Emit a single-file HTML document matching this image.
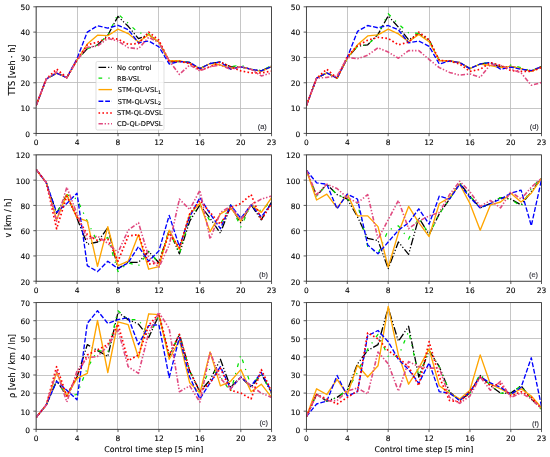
<!DOCTYPE html>
<html><head><meta charset="utf-8"><title>Figure</title>
<style>html,body{margin:0;padding:0;background:#fff}body{width:550px;height:457px;overflow:hidden}svg{display:block;filter:blur(0.3px)}svg text{stroke:#000;stroke-width:.1px}</style>
</head><body>
<svg width="550" height="457" viewBox="0 0 550 457" font-family="DejaVu Sans, Liberation Sans, sans-serif" font-size="7.5" fill="#000000">
<rect width="550" height="457" fill="#ffffff"/>
<clipPath id="c1"><rect x="36.1" y="6.8" width="235.45" height="126.60"/></clipPath>
<path d="M36.5 6.8V133.4M77.5 6.8V133.4M117.5 6.8V133.4M158.5 6.8V133.4M199.5 6.8V133.4M240.5 6.8V133.4M271.5 6.8V133.4M36.1 133.5H271.55M36.1 108.5H271.55M36.1 82.5H271.55M36.1 57.5H271.55M36.1 32.5H271.55M36.1 6.5H271.55" stroke="#bcbcbc" stroke-width="0.85" fill="none"/>
<g clip-path="url(#c1)" fill="none" stroke-linejoin="round">
<polyline points="36.1,105.5 46.3,79.0 56.6,73.1 66.8,77.7 77.0,60.0 87.3,48.6 97.5,45.0 107.8,35.2 118.0,16.4 128.2,26.3 138.5,38.7 148.7,34.7 158.9,42.0 169.2,61.5 179.4,61.5 189.7,62.5 199.9,68.6 210.1,63.5 220.4,62.0 230.6,66.8 240.8,66.8 251.1,69.3 261.3,70.9 271.6,66.0" stroke="#000000" stroke-width="1.3" stroke-dasharray="7.6,2,1.2,2,1.2,2"/>
<polyline points="36.1,105.5 46.3,79.0 56.6,73.1 66.8,77.7 77.0,60.0 87.3,48.6 97.5,45.0 107.8,35.2 118.0,13.9 128.2,23.3 138.5,32.9 148.7,33.9 158.9,42.8 169.2,61.5 179.4,61.5 189.7,62.5 199.9,68.6 210.1,63.5 220.4,62.0 230.6,66.8 240.8,65.0 251.1,69.3 261.3,70.4 271.6,66.0" stroke="#00e000" stroke-width="1.25" stroke-dasharray="3.7,6.2,1.2,6.2"/>
<polyline points="36.1,105.5 46.3,79.0 56.6,73.1 66.8,77.7 77.0,60.0 87.3,44.0 97.5,35.2 107.8,35.7 118.0,29.1 128.2,33.6 138.5,42.0 148.7,34.7 158.9,42.0 169.2,60.7 179.4,60.7 189.7,63.3 199.9,68.6 210.1,63.5 220.4,65.0 230.6,68.3 240.8,66.8 251.1,69.3 261.3,71.4 271.6,66.6" stroke="#ffa500" stroke-width="1.35"/>
<polyline points="36.1,105.5 46.3,79.0 56.6,73.1 66.8,77.7 77.0,58.7 87.3,32.1 97.5,25.8 107.8,28.1 118.0,25.3 128.2,29.6 138.5,42.8 148.7,41.0 158.9,46.8 169.2,64.0 179.4,61.5 189.7,62.5 199.9,68.6 210.1,63.5 220.4,62.0 230.6,69.3 240.8,66.8 251.1,69.3 261.3,70.9 271.6,66.6" stroke="#0000ff" stroke-width="1.35" stroke-dasharray="4.8,1.9"/>
<polyline points="36.1,105.5 46.3,79.0 56.6,69.1 66.8,77.7 77.0,60.0 87.3,44.8 97.5,42.2 107.8,37.7 118.0,39.2 128.2,44.3 138.5,43.5 148.7,32.1 158.9,40.2 169.2,61.5 179.4,61.5 189.7,63.3 199.9,70.1 210.1,66.8 220.4,62.0 230.6,66.8 240.8,70.9 251.1,72.9 261.3,72.9 271.6,71.1" stroke="#ff0000" stroke-width="1.7" stroke-dasharray="1.6,2.3"/>
<polyline points="36.1,105.5 46.3,79.0 56.6,71.9 66.8,77.7 77.0,60.0 87.3,47.3 97.5,46.0 107.8,38.5 118.0,41.0 128.2,47.6 138.5,48.8 148.7,37.2 158.9,42.8 169.2,60.7 179.4,74.4 189.7,65.0 199.9,70.9 210.1,66.8 220.4,65.0 230.6,69.3 240.8,66.8 251.1,69.3 261.3,75.9 271.6,72.9" stroke="#e04a80" stroke-width="1.6" stroke-dasharray="4.4,1.7,1.4,1.8,1.4,1.8"/>
</g>
<rect x="96.0" y="61.5" width="68.0" height="68.5" rx="1.5" fill="#ffffff" fill-opacity="0.8" stroke="#d2d2d2" stroke-width="0.7"/>
<path d="M98.5 67.4H112" stroke="#000000" stroke-width="1.3" fill="none" stroke-dasharray="7.6,2,1.2,2,1.2,2"/>
<text x="117" y="69.8" font-size="6.7">No control</text>
<path d="M98.5 78.2H112" stroke="#00e000" stroke-width="1.25" fill="none" stroke-dasharray="3.7,6.2,1.2,6.2"/>
<text x="117" y="80.6" font-size="6.7">RB-VSL</text>
<path d="M98.5 89.6H112" stroke="#ffa500" stroke-width="1.35" fill="none"/>
<text x="117.7" y="92.0" font-size="6.7">STM-QL-VSL<tspan font-size="4.8" dy="1.5">1</tspan></text>
<path d="M98.5 101.2H112" stroke="#0000ff" stroke-width="1.35" fill="none" stroke-dasharray="4.8,1.9"/>
<text x="117.7" y="103.6" font-size="6.7">STM-QL-VSL<tspan font-size="4.8" dy="1.5">2</tspan></text>
<path d="M98.5 113.0H112" stroke="#ff0000" stroke-width="1.7" fill="none" stroke-dasharray="1.6,2.3"/>
<text x="117" y="115.4" font-size="6.7">STM-QL-DVSL</text>
<path d="M98.5 123.8H112" stroke="#e04a80" stroke-width="1.6" fill="none" stroke-dasharray="4.4,1.7,1.4,1.8,1.4,1.8"/>
<text x="117" y="126.2" font-size="6.7">CD-QL-DPVSL</text>
<rect x="36.1" y="6.8" width="235.45" height="126.60" fill="none" stroke="#333333" stroke-width="0.85"/>
<path d="M36.10 133.4v2.8M77.05 133.4v2.8M118.00 133.4v2.8M158.94 133.4v2.8M199.89 133.4v2.8M240.84 133.4v2.8M271.55 133.4v2.8M36.1 133.40h-2.8M36.1 108.08h-2.8M36.1 82.76h-2.8M36.1 57.44h-2.8M36.1 32.12h-2.8M36.1 6.80h-2.8" stroke="#333333" stroke-width="0.8" fill="none"/>
<text x="36.10" y="145.3" text-anchor="middle">0</text>
<text x="77.05" y="145.3" text-anchor="middle">4</text>
<text x="118.00" y="145.3" text-anchor="middle">8</text>
<text x="158.94" y="145.3" text-anchor="middle">12</text>
<text x="199.89" y="145.3" text-anchor="middle">16</text>
<text x="240.84" y="145.3" text-anchor="middle">20</text>
<text x="271.55" y="145.3" text-anchor="middle">23</text>
<text x="30.10" y="136.7" text-anchor="end">0</text>
<text x="30.10" y="111.4" text-anchor="end">10</text>
<text x="30.10" y="86.1" text-anchor="end">20</text>
<text x="30.10" y="60.7" text-anchor="end">30</text>
<text x="30.10" y="35.4" text-anchor="end">40</text>
<text x="30.10" y="10.1" text-anchor="end">50</text>
<text x="262.2" y="128.5" text-anchor="middle" font-size="7.4" font-family="Liberation Sans, Arial, sans-serif" fill="#3a3a44">(a)</text>
<text transform="translate(15.1 70.1) rotate(-90)" text-anchor="middle" font-size="8">TTS [veh · h]</text>
<clipPath id="c2"><rect x="36.1" y="154.9" width="235.45" height="126.30"/></clipPath>
<path d="M36.5 154.9V281.2M77.5 154.9V281.2M117.5 154.9V281.2M158.5 154.9V281.2M199.5 154.9V281.2M240.5 154.9V281.2M271.5 154.9V281.2M36.1 281.5H271.55M36.1 255.5H271.55M36.1 230.5H271.55M36.1 205.5H271.55M36.1 180.5H271.55M36.1 154.5H271.55" stroke="#bcbcbc" stroke-width="0.85" fill="none"/>
<g clip-path="url(#c2)" fill="none" stroke-linejoin="round">
<polyline points="36.1,169.4 46.3,182.7 56.6,213.3 66.8,194.6 77.0,218.3 87.3,244.3 97.5,242.0 107.8,227.8 118.0,268.6 128.2,262.3 138.5,262.3 148.7,251.5 158.9,262.8 169.2,230.2 179.4,253.8 189.7,221.2 199.9,204.9 210.1,218.3 220.4,233.2 230.6,206.4 240.8,222.7 251.1,204.9 261.3,219.8 271.6,202.0" stroke="#000000" stroke-width="1.3" stroke-dasharray="7.6,2,1.2,2,1.2,2"/>
<polyline points="36.1,169.4 46.3,182.7 56.6,213.3 66.8,194.6 77.0,199.1 87.3,221.2 97.5,242.0 107.8,237.5 118.0,271.6 128.2,262.8 138.5,265.7 148.7,251.5 158.9,262.8 169.2,230.2 179.4,253.8 189.7,218.1 199.9,203.5 210.1,221.2 220.4,224.4 230.6,204.9 240.8,227.1 251.1,204.9 261.3,210.9 271.6,200.4" stroke="#00e000" stroke-width="1.25" stroke-dasharray="3.7,6.2,1.2,6.2"/>
<polyline points="36.1,169.4 46.3,182.7 56.6,219.8 66.8,194.6 77.0,217.7 87.3,221.2 97.5,266.3 107.8,226.6 118.0,265.7 128.2,261.2 138.5,234.6 148.7,269.2 158.9,266.7 169.2,230.2 179.4,249.4 189.7,213.9 199.9,203.5 210.1,231.7 220.4,213.9 230.6,207.9 240.8,221.2 251.1,204.9 261.3,212.4 271.6,197.6" stroke="#ffa500" stroke-width="1.35"/>
<polyline points="36.1,169.4 46.3,182.7 56.6,212.4 66.8,203.5 77.0,193.2 87.3,265.7 97.5,271.6 107.8,261.2 118.0,268.6 128.2,262.8 138.5,246.5 148.7,261.2 158.9,250.9 169.2,215.4 179.4,246.5 189.7,216.8 199.9,197.6 210.1,213.9 220.4,228.7 230.6,204.9 240.8,218.3 251.1,204.9 261.3,216.8 271.6,203.5" stroke="#0000ff" stroke-width="1.35" stroke-dasharray="4.8,1.9"/>
<polyline points="36.1,169.4 46.3,182.7 56.6,228.7 66.8,196.1 77.0,216.8 87.3,234.6 97.5,240.5 107.8,239.0 118.0,261.2 128.2,236.1 138.5,234.6 148.7,264.1 158.9,262.8 169.2,233.2 179.4,247.9 189.7,213.9 199.9,200.5 210.1,212.4 220.4,224.4 230.6,207.9 240.8,203.5 251.1,194.6 261.3,219.8 271.6,203.5" stroke="#ff0000" stroke-width="1.7" stroke-dasharray="1.6,2.3"/>
<polyline points="36.1,169.4 46.3,182.7 56.6,221.2 66.8,187.2 77.0,213.9 87.3,239.0 97.5,236.1 107.8,243.4 118.0,252.4 128.2,230.2 138.5,222.7 148.7,256.8 158.9,267.3 169.2,245.0 179.4,199.1 189.7,209.5 199.9,190.3 210.1,239.0 220.4,212.4 230.6,206.4 240.8,219.8 251.1,204.9 261.3,199.1 271.6,196.1" stroke="#e04a80" stroke-width="1.6" stroke-dasharray="4.4,1.7,1.4,1.8,1.4,1.8"/>
</g>
<rect x="36.1" y="154.9" width="235.45" height="126.30" fill="none" stroke="#333333" stroke-width="0.85"/>
<path d="M36.10 281.2v2.8M77.05 281.2v2.8M118.00 281.2v2.8M158.94 281.2v2.8M199.89 281.2v2.8M240.84 281.2v2.8M271.55 281.2v2.8M36.1 281.20h-2.8M36.1 255.94h-2.8M36.1 230.68h-2.8M36.1 205.42h-2.8M36.1 180.16h-2.8M36.1 154.90h-2.8" stroke="#333333" stroke-width="0.8" fill="none"/>
<text x="36.10" y="293.1" text-anchor="middle">0</text>
<text x="77.05" y="293.1" text-anchor="middle">4</text>
<text x="118.00" y="293.1" text-anchor="middle">8</text>
<text x="158.94" y="293.1" text-anchor="middle">12</text>
<text x="199.89" y="293.1" text-anchor="middle">16</text>
<text x="240.84" y="293.1" text-anchor="middle">20</text>
<text x="271.55" y="293.1" text-anchor="middle">23</text>
<text x="30.10" y="284.5" text-anchor="end">20</text>
<text x="30.10" y="259.2" text-anchor="end">40</text>
<text x="30.10" y="234.0" text-anchor="end">60</text>
<text x="30.10" y="208.7" text-anchor="end">80</text>
<text x="30.10" y="183.5" text-anchor="end">100</text>
<text x="30.10" y="158.2" text-anchor="end">120</text>
<text x="263.5" y="276.8" text-anchor="middle" font-size="7.4" font-family="Liberation Sans, Arial, sans-serif" fill="#3a3a44">(b)</text>
<text transform="translate(11.2 218.1) rotate(-90)" text-anchor="middle" font-size="8">v [km / h]</text>
<clipPath id="c3"><rect x="36.1" y="302.6" width="235.45" height="126.70"/></clipPath>
<path d="M36.5 302.6V429.3M77.5 302.6V429.3M117.5 302.6V429.3M158.5 302.6V429.3M199.5 302.6V429.3M240.5 302.6V429.3M271.5 302.6V429.3M36.1 429.5H271.55M36.1 411.5H271.55M36.1 393.5H271.55M36.1 375.5H271.55M36.1 356.5H271.55M36.1 338.5H271.55M36.1 320.5H271.55M36.1 302.5H271.55" stroke="#bcbcbc" stroke-width="0.85" fill="none"/>
<g clip-path="url(#c3)" fill="none" stroke-linejoin="round">
<polyline points="36.1,417.5 46.3,404.9 56.6,380.8 66.8,396.0 77.0,377.0 87.3,344.6 97.5,350.6 107.8,356.4 118.0,312.4 128.2,319.6 138.5,324.1 148.7,337.4 158.9,315.3 169.2,356.4 179.4,334.3 189.7,371.0 199.9,391.7 210.1,379.9 220.4,359.3 230.6,387.3 240.8,377.0 251.1,387.3 261.3,373.9 271.6,393.1" stroke="#000000" stroke-width="1.3" stroke-dasharray="7.6,2,1.2,2,1.2,2"/>
<polyline points="36.1,417.5 46.3,404.9 56.6,380.4 66.8,396.0 77.0,394.5 87.3,368.1 97.5,350.6 107.8,352.0 118.0,310.7 128.2,319.6 138.5,319.6 148.7,335.7 158.9,315.3 169.2,356.4 179.4,334.3 189.7,371.0 199.9,391.7 210.1,368.1 220.4,376.8 230.6,391.7 240.8,354.9 251.1,385.9 261.3,373.9 271.6,393.1" stroke="#00e000" stroke-width="1.25" stroke-dasharray="3.7,6.2,1.2,6.2"/>
<polyline points="36.1,417.5 46.3,404.9 56.6,372.5 66.8,396.0 77.0,378.4 87.3,373.4 97.5,320.5 107.8,372.5 118.0,321.8 128.2,324.7 138.5,357.8 148.7,313.8 158.9,314.7 169.2,359.3 179.4,340.2 189.7,382.8 199.9,393.1 210.1,352.0 220.4,385.9 230.6,381.3 240.8,369.6 251.1,391.7 261.3,384.2 271.6,397.4" stroke="#ffa500" stroke-width="1.35"/>
<polyline points="36.1,417.5 46.3,404.9 56.6,381.3 66.8,390.2 77.0,399.8 87.3,323.4 97.5,310.7 107.8,323.4 118.0,319.6 128.2,317.6 138.5,344.6 148.7,325.6 158.9,324.7 169.2,377.5 179.4,337.4 189.7,377.0 199.9,398.9 210.1,382.8 220.4,366.7 230.6,388.8 240.8,377.0 251.1,385.9 261.3,372.5 271.6,391.7" stroke="#0000ff" stroke-width="1.35" stroke-dasharray="4.8,1.9"/>
<polyline points="36.1,417.5 46.3,404.9 56.6,366.7 66.8,396.0 77.0,375.5 87.3,354.9 97.5,349.8 107.8,344.6 118.0,324.1 128.2,360.7 138.5,354.9 148.7,325.2 158.9,313.8 169.2,354.9 179.4,334.3 189.7,371.0 199.9,391.7 210.1,382.8 220.4,368.1 230.6,390.2 240.8,393.1 251.1,398.9 261.3,369.6 271.6,391.7" stroke="#ff0000" stroke-width="1.7" stroke-dasharray="1.6,2.3"/>
<polyline points="36.1,417.5 46.3,404.9 56.6,371.0 66.8,402.0 77.0,371.0 87.3,357.8 97.5,356.4 107.8,346.0 118.0,329.9 128.2,366.7 138.5,373.4 148.7,332.8 158.9,312.4 169.2,328.5 179.4,391.7 189.7,385.9 199.9,402.0 210.1,352.0 220.4,378.4 230.6,388.8 240.8,377.0 251.1,385.9 261.3,393.1 271.6,397.4" stroke="#e04a80" stroke-width="1.6" stroke-dasharray="4.4,1.7,1.4,1.8,1.4,1.8"/>
</g>
<rect x="36.1" y="302.6" width="235.45" height="126.70" fill="none" stroke="#333333" stroke-width="0.85"/>
<path d="M36.10 429.3v2.8M77.05 429.3v2.8M118.00 429.3v2.8M158.94 429.3v2.8M199.89 429.3v2.8M240.84 429.3v2.8M271.55 429.3v2.8M36.1 429.30h-2.8M36.1 411.20h-2.8M36.1 393.10h-2.8M36.1 375.00h-2.8M36.1 356.90h-2.8M36.1 338.80h-2.8M36.1 320.70h-2.8M36.1 302.60h-2.8" stroke="#333333" stroke-width="0.8" fill="none"/>
<text x="36.10" y="441.2" text-anchor="middle">0</text>
<text x="77.05" y="441.2" text-anchor="middle">4</text>
<text x="118.00" y="441.2" text-anchor="middle">8</text>
<text x="158.94" y="441.2" text-anchor="middle">12</text>
<text x="199.89" y="441.2" text-anchor="middle">16</text>
<text x="240.84" y="441.2" text-anchor="middle">20</text>
<text x="271.55" y="441.2" text-anchor="middle">23</text>
<text x="30.10" y="432.6" text-anchor="end">0</text>
<text x="30.10" y="414.5" text-anchor="end">10</text>
<text x="30.10" y="396.4" text-anchor="end">20</text>
<text x="30.10" y="378.3" text-anchor="end">30</text>
<text x="30.10" y="360.2" text-anchor="end">40</text>
<text x="30.10" y="342.1" text-anchor="end">50</text>
<text x="30.10" y="324.0" text-anchor="end">60</text>
<text x="30.10" y="305.9" text-anchor="end">70</text>
<text x="263.7" y="425.4" text-anchor="middle" font-size="7.4" font-family="Liberation Sans, Arial, sans-serif" fill="#3a3a44">(c)</text>
<text transform="translate(15.2 366.0) rotate(-90)" text-anchor="middle" font-size="8">ρ [veh / km / ln]</text>
<text x="153.8" y="452.2" text-anchor="middle" font-size="7.85">Control time step [5 min]</text>
<clipPath id="c4"><rect x="306.4" y="6.8" width="235.10" height="126.60"/></clipPath>
<path d="M306.5 6.8V133.4M347.5 6.8V133.4M388.5 6.8V133.4M429.5 6.8V133.4M469.5 6.8V133.4M510.5 6.8V133.4M541.5 6.8V133.4M306.4 133.5H541.5M306.4 108.5H541.5M306.4 82.5H541.5M306.4 57.5H541.5M306.4 32.5H541.5M306.4 6.5H541.5" stroke="#bcbcbc" stroke-width="0.85" fill="none"/>
<g clip-path="url(#c4)" fill="none" stroke-linejoin="round">
<polyline points="306.4,105.5 316.6,78.2 326.8,72.9 337.1,78.2 347.3,58.2 357.5,46.3 367.7,44.8 378.0,34.4 388.2,15.9 398.4,27.1 408.6,39.7 418.8,33.9 429.1,40.2 439.3,60.5 449.5,61.0 459.7,62.5 469.9,68.6 480.2,64.0 490.4,62.5 500.6,67.1 510.8,66.3 521.1,68.6 531.3,71.4 541.5,66.3" stroke="#000000" stroke-width="1.3" stroke-dasharray="7.6,2,1.2,2,1.2,2"/>
<polyline points="306.4,105.5 316.6,78.2 326.8,72.9 337.1,78.2 347.3,58.2 357.5,46.3 367.7,44.8 378.0,34.4 388.2,13.6 398.4,24.0 408.6,32.9 418.8,33.4 429.1,40.2 439.3,60.5 449.5,61.0 459.7,62.5 469.9,68.6 480.2,64.0 490.4,62.5 500.6,67.1 510.8,65.0 521.1,67.6 531.3,70.9 541.5,66.3" stroke="#00e000" stroke-width="1.25" stroke-dasharray="3.7,6.2,1.2,6.2"/>
<polyline points="306.4,105.5 316.6,78.2 326.8,72.9 337.1,78.2 347.3,58.2 357.5,44.8 367.7,35.9 378.0,34.9 388.2,29.1 398.4,33.9 408.6,41.7 418.8,34.4 429.1,41.7 439.3,60.5 449.5,61.0 459.7,62.5 469.9,68.6 480.2,64.0 490.4,65.5 500.6,67.6 510.8,66.3 521.1,68.6 531.3,71.4 541.5,66.8" stroke="#ffa500" stroke-width="1.35"/>
<polyline points="306.4,105.5 316.6,78.2 326.8,72.9 337.1,78.2 347.3,57.4 357.5,31.4 367.7,25.5 378.0,27.8 388.2,25.5 398.4,29.8 408.6,42.8 418.8,41.0 429.1,46.3 439.3,64.0 449.5,61.0 459.7,62.5 469.9,68.6 480.2,64.0 490.4,62.5 500.6,69.3 510.8,67.1 521.1,69.3 531.3,70.6 541.5,66.8" stroke="#0000ff" stroke-width="1.35" stroke-dasharray="4.8,1.9"/>
<polyline points="306.4,105.5 316.6,78.2 326.8,69.3 337.1,78.2 347.3,56.7 357.5,45.5 367.7,40.2 378.0,37.4 388.2,38.5 398.4,44.8 408.6,42.2 418.8,32.1 429.1,39.7 439.3,60.5 449.5,61.0 459.7,64.0 469.9,71.4 480.2,69.3 490.4,62.5 500.6,65.5 510.8,70.6 521.1,71.4 531.3,71.4 541.5,67.6" stroke="#ff0000" stroke-width="1.7" stroke-dasharray="1.6,2.3"/>
<polyline points="306.4,105.5 316.6,78.2 326.8,77.4 337.1,75.9 347.3,57.4 357.5,58.7 367.7,55.2 378.0,47.8 388.2,52.1 398.4,58.2 408.6,50.6 418.8,50.6 429.1,59.5 439.3,67.6 449.5,72.4 459.7,75.2 469.9,73.9 480.2,77.4 490.4,64.5 500.6,65.5 510.8,69.3 521.1,72.9 531.3,85.3 541.5,82.5" stroke="#e04a80" stroke-width="1.6" stroke-dasharray="4.4,1.7,1.4,1.8,1.4,1.8"/>
</g>
<rect x="306.4" y="6.8" width="235.10" height="126.60" fill="none" stroke="#333333" stroke-width="0.85"/>
<path d="M306.40 133.4v2.8M347.29 133.4v2.8M388.17 133.4v2.8M429.06 133.4v2.8M469.95 133.4v2.8M510.83 133.4v2.8M541.50 133.4v2.8M306.4 133.40h-2.8M306.4 108.08h-2.8M306.4 82.76h-2.8M306.4 57.44h-2.8M306.4 32.12h-2.8M306.4 6.80h-2.8" stroke="#333333" stroke-width="0.8" fill="none"/>
<text x="306.40" y="145.3" text-anchor="middle">0</text>
<text x="347.29" y="145.3" text-anchor="middle">4</text>
<text x="388.17" y="145.3" text-anchor="middle">8</text>
<text x="429.06" y="145.3" text-anchor="middle">12</text>
<text x="469.95" y="145.3" text-anchor="middle">16</text>
<text x="510.83" y="145.3" text-anchor="middle">20</text>
<text x="541.50" y="145.3" text-anchor="middle">23</text>
<text x="300.40" y="136.7" text-anchor="end">0</text>
<text x="300.40" y="111.4" text-anchor="end">10</text>
<text x="300.40" y="86.1" text-anchor="end">20</text>
<text x="300.40" y="60.7" text-anchor="end">30</text>
<text x="300.40" y="35.4" text-anchor="end">40</text>
<text x="300.40" y="10.1" text-anchor="end">50</text>
<text x="534.2" y="129.0" text-anchor="middle" font-size="7.4" font-family="Liberation Sans, Arial, sans-serif" fill="#3a3a44">(d)</text>
<clipPath id="c5"><rect x="306.4" y="154.9" width="235.10" height="126.30"/></clipPath>
<path d="M306.5 154.9V281.2M347.5 154.9V281.2M388.5 154.9V281.2M429.5 154.9V281.2M469.5 154.9V281.2M510.5 154.9V281.2M541.5 154.9V281.2M306.4 281.5H541.5M306.4 255.5H541.5M306.4 230.5H541.5M306.4 205.5H541.5M306.4 180.5H541.5M306.4 154.5H541.5" stroke="#bcbcbc" stroke-width="0.85" fill="none"/>
<g clip-path="url(#c5)" fill="none" stroke-linejoin="round">
<polyline points="306.4,170.3 316.6,196.1 326.8,184.2 337.1,194.6 347.3,199.1 357.5,216.8 367.7,238.4 378.0,240.5 388.2,268.6 398.4,242.0 408.6,254.4 418.8,217.7 429.1,234.6 439.3,213.9 449.5,199.1 459.7,183.3 469.9,196.1 480.2,207.9 490.4,203.5 500.6,197.6 510.8,199.1 521.1,204.9 531.3,191.7 541.5,178.3" stroke="#000000" stroke-width="1.3" stroke-dasharray="7.6,2,1.2,2,1.2,2"/>
<polyline points="306.4,170.3 316.6,196.1 326.8,184.2 337.1,194.6 347.3,199.1 357.5,203.5 367.7,246.5 378.0,253.8 388.2,230.2 398.4,225.8 408.6,239.0 418.8,217.7 429.1,234.6 439.3,213.9 449.5,199.1 459.7,183.3 469.9,196.1 480.2,207.9 490.4,203.5 500.6,197.6 510.8,199.1 521.1,206.4 531.3,188.7 541.5,177.0" stroke="#00e000" stroke-width="1.25" stroke-dasharray="3.7,6.2,1.2,6.2"/>
<polyline points="306.4,170.3 316.6,200.0 326.8,194.1 337.1,207.9 347.3,194.1 357.5,215.9 367.7,215.9 378.0,226.6 388.2,267.2 398.4,233.1 408.6,206.4 418.8,222.7 429.1,236.6 439.3,203.5 449.5,197.6 459.7,184.2 469.9,203.5 480.2,230.2 490.4,204.9 500.6,202.0 510.8,193.2 521.1,202.0 531.3,193.2 541.5,178.3" stroke="#ffa500" stroke-width="1.35"/>
<polyline points="306.4,170.3 316.6,182.8 326.8,184.2 337.1,208.8 347.3,194.1 357.5,199.1 367.7,245.0 378.0,253.8 388.2,242.0 398.4,230.2 408.6,222.7 418.8,208.8 429.1,224.2 439.3,196.1 449.5,199.1 459.7,184.2 469.9,197.6 480.2,207.9 490.4,203.5 500.6,199.1 510.8,193.2 521.1,190.1 531.3,225.8 541.5,179.8" stroke="#0000ff" stroke-width="1.35" stroke-dasharray="4.8,1.9"/>
<polyline points="306.4,170.3 316.6,194.6 326.8,184.2 337.1,188.6 347.3,197.6 357.5,202.9 367.7,194.6 378.0,239.0 388.2,219.8 398.4,200.5 408.6,228.7 418.8,221.2 429.1,215.9 439.3,212.4 449.5,194.6 459.7,181.3 469.9,191.7 480.2,206.4 490.4,200.5 500.6,207.9 510.8,191.7 521.1,199.1 531.3,187.2 541.5,178.3" stroke="#e04a80" stroke-width="1.6" stroke-dasharray="4.4,1.7,1.4,1.8,1.4,1.8"/>
</g>
<rect x="306.4" y="154.9" width="235.10" height="126.30" fill="none" stroke="#333333" stroke-width="0.85"/>
<path d="M306.40 281.2v2.8M347.29 281.2v2.8M388.17 281.2v2.8M429.06 281.2v2.8M469.95 281.2v2.8M510.83 281.2v2.8M541.50 281.2v2.8M306.4 281.20h-2.8M306.4 255.94h-2.8M306.4 230.68h-2.8M306.4 205.42h-2.8M306.4 180.16h-2.8M306.4 154.90h-2.8" stroke="#333333" stroke-width="0.8" fill="none"/>
<text x="306.40" y="293.1" text-anchor="middle">0</text>
<text x="347.29" y="293.1" text-anchor="middle">4</text>
<text x="388.17" y="293.1" text-anchor="middle">8</text>
<text x="429.06" y="293.1" text-anchor="middle">12</text>
<text x="469.95" y="293.1" text-anchor="middle">16</text>
<text x="510.83" y="293.1" text-anchor="middle">20</text>
<text x="541.50" y="293.1" text-anchor="middle">23</text>
<text x="300.40" y="284.5" text-anchor="end">20</text>
<text x="300.40" y="259.2" text-anchor="end">40</text>
<text x="300.40" y="234.0" text-anchor="end">60</text>
<text x="300.40" y="208.7" text-anchor="end">80</text>
<text x="300.40" y="183.5" text-anchor="end">100</text>
<text x="300.40" y="158.2" text-anchor="end">120</text>
<text x="533.5" y="276.8" text-anchor="middle" font-size="7.4" font-family="Liberation Sans, Arial, sans-serif" fill="#3a3a44">(e)</text>
<clipPath id="c6"><rect x="306.4" y="302.6" width="235.10" height="126.70"/></clipPath>
<path d="M306.5 302.6V429.3M347.5 302.6V429.3M388.5 302.6V429.3M429.5 302.6V429.3M469.5 302.6V429.3M510.5 302.6V429.3M541.5 302.6V429.3M306.4 429.5H541.5M306.4 411.5H541.5M306.4 393.5H541.5M306.4 375.5H541.5M306.4 356.5H541.5M306.4 338.5H541.5M306.4 320.5H541.5M306.4 302.5H541.5" stroke="#bcbcbc" stroke-width="0.85" fill="none"/>
<g clip-path="url(#c6)" fill="none" stroke-linejoin="round">
<polyline points="306.4,416.6 316.6,394.0 326.8,401.1 337.1,397.4 347.3,390.2 357.5,363.8 367.7,350.6 378.0,344.6 388.2,307.8 398.4,341.2 408.6,326.3 418.8,377.0 429.1,350.6 439.3,366.7 449.5,391.7 459.7,400.5 469.9,393.1 480.2,375.5 490.4,385.7 500.6,393.1 510.8,393.1 521.1,385.7 531.3,398.9 541.5,408.7" stroke="#000000" stroke-width="1.3" stroke-dasharray="7.6,2,1.2,2,1.2,2"/>
<polyline points="306.4,416.6 316.6,394.0 326.8,401.1 337.1,397.4 347.3,390.2 357.5,372.5 367.7,349.1 378.0,334.3 388.2,356.4 398.4,356.4 408.6,331.4 418.8,375.9 429.1,350.6 439.3,366.7 449.5,391.7 459.7,400.5 469.9,393.1 480.2,374.1 490.4,385.7 500.6,393.1 510.8,393.1 521.1,385.7 531.3,398.9 541.5,409.4" stroke="#00e000" stroke-width="1.25" stroke-dasharray="3.7,6.2,1.2,6.2"/>
<polyline points="306.4,416.6 316.6,388.8 326.8,394.5 337.1,379.3 347.3,394.5 357.5,365.2 367.7,377.0 378.0,365.8 388.2,306.4 398.4,354.9 408.6,384.2 418.8,368.1 429.1,348.9 439.3,385.7 449.5,393.1 459.7,398.9 469.9,390.2 480.2,354.9 490.4,384.2 500.6,388.8 510.8,394.5 521.1,388.8 531.3,396.0 541.5,407.8" stroke="#ffa500" stroke-width="1.35"/>
<polyline points="306.4,416.6 316.6,404.0 326.8,401.1 337.1,375.5 347.3,396.0 357.5,391.7 367.7,335.7 378.0,330.5 388.2,341.7 398.4,359.3 408.6,369.6 418.8,383.3 429.1,362.9 439.3,391.7 449.5,393.1 459.7,400.5 469.9,391.7 480.2,377.0 490.4,382.8 500.6,387.3 510.8,394.5 521.1,387.3 531.3,357.8 541.5,406.3" stroke="#0000ff" stroke-width="1.35" stroke-dasharray="4.8,1.9"/>
<polyline points="306.4,416.6 316.6,394.5 326.8,398.9 337.1,404.0 347.3,397.4 357.5,391.1 367.7,332.8 378.0,338.8 388.2,350.6 398.4,357.8 408.6,366.7 418.8,385.7 429.1,341.7 439.3,377.0 449.5,400.5 459.7,402.0 469.9,391.7 480.2,377.0 490.4,385.7 500.6,384.2 510.8,396.0 521.1,391.7 531.3,397.4 541.5,408.7" stroke="#ff0000" stroke-width="1.7" stroke-dasharray="1.6,2.3"/>
<polyline points="306.4,416.6 316.6,394.5 326.8,401.1 337.1,400.5 347.3,391.1 357.5,388.0 367.7,394.0 378.0,352.0 388.2,363.8 398.4,391.1 408.6,361.6 418.8,366.7 429.1,368.1 439.3,368.1 449.5,397.4 459.7,403.4 469.9,396.0 480.2,377.0 490.4,390.2 500.6,381.3 510.8,397.4 521.1,393.1 531.3,398.9 541.5,408.7" stroke="#e04a80" stroke-width="1.6" stroke-dasharray="4.4,1.7,1.4,1.8,1.4,1.8"/>
</g>
<rect x="306.4" y="302.6" width="235.10" height="126.70" fill="none" stroke="#333333" stroke-width="0.85"/>
<path d="M306.40 429.3v2.8M347.29 429.3v2.8M388.17 429.3v2.8M429.06 429.3v2.8M469.95 429.3v2.8M510.83 429.3v2.8M541.50 429.3v2.8M306.4 429.30h-2.8M306.4 411.20h-2.8M306.4 393.10h-2.8M306.4 375.00h-2.8M306.4 356.90h-2.8M306.4 338.80h-2.8M306.4 320.70h-2.8M306.4 302.60h-2.8" stroke="#333333" stroke-width="0.8" fill="none"/>
<text x="306.40" y="441.2" text-anchor="middle">0</text>
<text x="347.29" y="441.2" text-anchor="middle">4</text>
<text x="388.17" y="441.2" text-anchor="middle">8</text>
<text x="429.06" y="441.2" text-anchor="middle">12</text>
<text x="469.95" y="441.2" text-anchor="middle">16</text>
<text x="510.83" y="441.2" text-anchor="middle">20</text>
<text x="541.50" y="441.2" text-anchor="middle">23</text>
<text x="300.40" y="432.6" text-anchor="end">0</text>
<text x="300.40" y="414.5" text-anchor="end">10</text>
<text x="300.40" y="396.4" text-anchor="end">20</text>
<text x="300.40" y="378.3" text-anchor="end">30</text>
<text x="300.40" y="360.2" text-anchor="end">40</text>
<text x="300.40" y="342.1" text-anchor="end">50</text>
<text x="300.40" y="324.0" text-anchor="end">60</text>
<text x="300.40" y="305.9" text-anchor="end">70</text>
<text x="535.5" y="425.6" text-anchor="middle" font-size="7.4" font-family="Liberation Sans, Arial, sans-serif" fill="#3a3a44">(f)</text>
<text x="423.9" y="452.2" text-anchor="middle" font-size="7.85">Control time step [5 min]</text>
</svg>
</body></html>
